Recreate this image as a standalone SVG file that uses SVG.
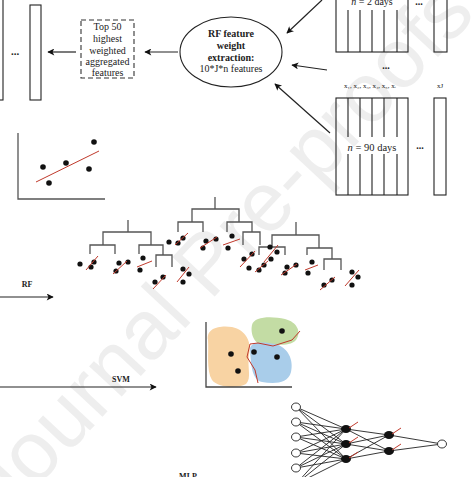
<svg xmlns="http://www.w3.org/2000/svg" width="474" height="477" viewBox="0 0 474 477">
<defs>
<marker id="ah" viewBox="0 0 10 10" refX="9" refY="5" markerWidth="9" markerHeight="7" markerUnits="userSpaceOnUse" orient="auto"><path d="M0,0 L10,5 L0,10 L2.5,5 Z" fill="#111"/></marker>
<style>
.t{font-family:"Liberation Serif","Times New Roman",serif;fill:#222}
.b{font-weight:bold}
.ln{stroke:#222;stroke-width:1.1;fill:none}
.ar{stroke:#222;stroke-width:1.2;fill:none;marker-end:url(#ah)}
.tr{stroke:#555;stroke-width:1.3;fill:none}
.d{fill:#111}
.rs{stroke:#c0392b;stroke-width:1;fill:none}
.nn{stroke:#222;stroke-width:0.9}
.wm{font-family:"Liberation Sans",Arial,sans-serif;font-size:84px;fill:#e9e9e9;opacity:0.75}
</style>
</defs>
<rect width="474" height="477" fill="#fff"/>
<text class="wm" x="236" y="270" text-anchor="middle" transform="rotate(-47 236 262)">Journal Pre-proofs</text>

<g id="connectors">
<line class="ar" x1="76" y1="52" x2="48" y2="52"/>
<line class="ar" x1="178" y1="52" x2="145" y2="52"/>
<line class="ar" x1="322" y1="0" x2="287" y2="33"/>
<line class="ar" x1="327" y1="70" x2="292" y2="65"/>
<line class="ar" x1="330" y1="133" x2="275" y2="84"/>
<line class="ar" x1="0" y1="297" x2="53" y2="297"/>
<line class="ar" x1="0" y1="387" x2="156" y2="387"/>
</g>

<g id="output-vectors">
<rect class="ln" x="-10" y="-2" width="13" height="102"/>
<rect class="ln" x="30" y="5" width="11" height="95"/>
<text class="t b" x="15" y="55" font-size="11" text-anchor="middle">...</text>
</g>

<g id="top50">
<rect x="81" y="20" width="53" height="58" fill="none" stroke="#333" stroke-width="1.1" stroke-dasharray="5,3"/>
<text class="t" font-size="10" text-anchor="middle"><tspan x="107.5" y="30">Top 50</tspan><tspan x="107.5" y="42">highest</tspan><tspan x="107.5" y="54">weighted</tspan><tspan x="107.5" y="65">aggregated</tspan><tspan x="107.5" y="76">features</tspan></text>
</g>

<g id="rf-weight">
<ellipse class="ln" cx="231" cy="52" rx="51" ry="35"/>
<text class="t" font-size="10" text-anchor="middle"><tspan class="b" x="231" y="37">RF feature</tspan><tspan class="b" x="231" y="49">weight</tspan><tspan class="b" x="231" y="61">extraction:</tspan><tspan x="231" y="72">10*J*n features</tspan></text>
</g>

<g id="matrix-2days">
<rect class="ln" x="336" y="-5" width="72" height="57"/>
<path class="ln" d="M348,10V52M360,10V52M372,10V52M384,10V52M397,10V52"/>
<text class="t" font-size="10" x="372" y="5" text-anchor="middle"><tspan font-style="italic">n</tspan> = 2 days</text>
<text class="t b" x="419" y="5" font-size="10" text-anchor="middle">...</text>
<rect class="ln" x="434" y="-5" width="13" height="57"/>
</g>

<text class="t b" x="386" y="69" font-size="10" text-anchor="middle">...</text>

<g id="matrix-90days">
<text class="t" x="370" y="88" font-size="7" text-anchor="middle">x₁, x₂, x₃, x₄, x₅, xᵢ</text>
<text class="t" x="440" y="88" font-size="7" text-anchor="middle">xJ</text>
<rect class="ln" x="336" y="98" width="72" height="97"/>
<path class="ln" d="M348,98V137M360,98V137M372,98V137M384,98V137M397,98V137M348,154V195M360,154V195M372,154V195M384,154V195M397,154V195"/>
<text class="t" font-size="10.5" x="372" y="151" text-anchor="middle"><tspan font-style="italic">n</tspan> = 90 days</text>
<text class="t b" x="420" y="149" font-size="10" text-anchor="middle">...</text>
<rect class="ln" x="434" y="98" width="12" height="97"/>
</g>

<g id="regression">
<path d="M18,133V199H105" stroke="#555" stroke-width="1.3" fill="none"/>
<line class="rs" x1="36" y1="182" x2="99" y2="151"/>
<circle class="d" cx="43" cy="167" r="2.8"/>
<circle class="d" cx="49" cy="183" r="2.8"/>
<circle class="d" cx="66" cy="163" r="2.8"/>
<circle class="d" cx="89" cy="169" r="2.8"/>
<circle class="d" cx="94" cy="142" r="2.8"/>
</g>

<g id="rf-trees">
<path class="tr" d="M128,220V232M103,245V232H151V245M90,254V245H115V254M139,254V245H163V255M156,267V255H172V267"/>
<path class="tr" d="M215,197V209M192,222V209H239V222M178,232V222H203V232M227,232V222H252V232M243,245V232H260V245"/>
<path class="tr" d="M296,222V235M272,247V235H319V248M259,255V247H285V255M307,255V248H332V259M324,270V259H341V270"/>
<g class="d">
<circle cx="80" cy="264" r="2.6"/><circle cx="91" cy="267" r="2.6"/><circle cx="94" cy="262" r="2.6"/>
<circle cx="116" cy="271" r="2.6"/><circle cx="119" cy="263" r="2.6"/><circle cx="128" cy="262" r="2.6"/>
<circle cx="143" cy="258" r="2.6"/><circle cx="140" cy="270" r="2.6"/>
<circle cx="155" cy="282" r="2.6"/><circle cx="163" cy="277" r="2.6"/>
<circle cx="183" cy="269" r="2.6"/><circle cx="189" cy="274" r="2.6"/><circle cx="183" cy="282" r="2.6"/>
<circle cx="169" cy="242" r="2.6"/><circle cx="178" cy="243" r="2.6"/><circle cx="183" cy="238" r="2.6"/>
<circle cx="206" cy="241" r="2.6"/><circle cx="203" cy="248" r="2.6"/><circle cx="216" cy="239" r="2.6"/>
<circle cx="232" cy="236" r="2.6"/><circle cx="228" cy="248" r="2.6"/>
<circle cx="244" cy="259" r="2.6"/><circle cx="252" cy="254" r="2.6"/><circle cx="249" cy="268" r="2.6"/>
<circle cx="259" cy="270" r="2.6"/><circle cx="264" cy="265" r="2.6"/>
<circle cx="270" cy="247" r="2.6"/><circle cx="277" cy="252" r="2.6"/><circle cx="271" cy="259" r="2.6"/>
<circle cx="285" cy="273" r="2.6"/><circle cx="287" cy="267" r="2.6"/><circle cx="296" cy="265" r="2.6"/>
<circle cx="312" cy="262" r="2.6"/><circle cx="308" cy="273" r="2.6"/>
<circle cx="324" cy="285" r="2.6"/><circle cx="332" cy="280" r="2.6"/>
<circle cx="352" cy="272" r="2.6"/><circle cx="358" cy="277" r="2.6"/><circle cx="352" cy="285" r="2.6"/>
</g>
<path class="rs" d="M86,270L98,256M113,274L127,261M137,267L152,261M153,289L166,275M177,282L189,267M175,245L188,233M200,248L217,237M223,245L240,239M240,267L255,251M255,272L268,261M264,262L278,245M281,275L297,264M305,270L318,265M320,290L335,277M345,286L359,270"/>
</g>

<g id="svm-plot">
<path d="M208,340C206,328 220,325 232,327C246,330 252,342 249,355C247,368 252,378 246,384C238,389 218,388 212,380C206,370 209,352 208,340Z" fill="#f8d3a3"/>
<path d="M252,325C254,316 272,316 285,319C297,322 302,332 296,340C290,347 276,344 265,345C255,346 250,334 252,325Z" fill="#c3dca4"/>
<path d="M250,350C249,342 262,341 275,344C288,347 294,360 291,372C288,384 274,384 262,382C252,380 251,365 250,350Z" fill="#a9cdea"/>
<path d="M206,322V387H292" stroke="#444" stroke-width="1.3" fill="none"/>
<path class="rs" d="M258,383L255,370L247,357L250,344L258,343L273,346L292,340L300,331"/>
<circle class="d" cx="282" cy="331" r="2.8"/>
<circle class="d" cx="231" cy="354" r="2.8"/>
<circle class="d" cx="238" cy="371" r="2.8"/>
<circle class="d" cx="254" cy="352" r="2.8"/>
<circle class="d" cx="277" cy="357" r="2.8"/>
</g>

<g id="labels">
<text class="t b" x="27" y="287" font-size="8" text-anchor="middle">RF</text>
<text class="t b" x="121" y="382" font-size="8" text-anchor="middle">SVM</text>
<text class="t b" x="188" y="479" font-size="8" text-anchor="middle">MLP</text>
</g>

<g id="mlp">
<g class="nn">
<path d="M296,407L346,429M296,407L346,444M296,407L346,459M296,422L346,429M296,422L346,444M296,422L346,459M296,437L346,429M296,437L346,444M296,437L346,459M296,453L346,429M296,453L346,444M296,453L346,459M296,468L346,429M296,468L346,444M296,468L346,459M296,484L346,429M296,484L346,444M296,484L346,459M346,429L389,435M346,429L389,451M346,444L389,435M346,444L389,451M346,459L389,435M346,459L389,451M389,435L442,444M389,451L442,444"/>
</g>
<g fill="#fff" stroke="#222" stroke-width="0.9">
<ellipse cx="296" cy="407" rx="4.5" ry="4"/>
<ellipse cx="296" cy="422" rx="4.5" ry="4"/>
<ellipse cx="296" cy="437" rx="4.5" ry="4"/>
<ellipse cx="296" cy="453" rx="4.5" ry="4"/>
<ellipse cx="296" cy="468" rx="4.5" ry="4"/>
<ellipse cx="442" cy="444" rx="4.5" ry="4"/>
</g>
<g class="d">
<ellipse cx="346" cy="429" rx="5" ry="4"/>
<ellipse cx="346" cy="444" rx="5" ry="4"/>
<ellipse cx="346" cy="459" rx="5" ry="4"/>
<ellipse cx="389" cy="435" rx="5" ry="4"/>
<ellipse cx="389" cy="451" rx="5" ry="4"/>
</g>
<path class="rs" d="M349,428L358,422M349,443L358,437M349,458L358,452M392,434L401,428M392,450L401,444"/>
</g>
</svg>
